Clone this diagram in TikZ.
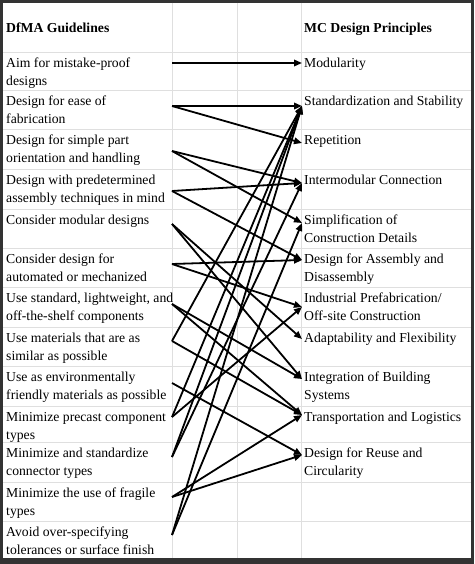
\documentclass[tikz,border=0pt]{standalone}
\usepackage{fontspec}
\setmainfont{Liberation Serif}
\usetikzlibrary{arrows.meta}
\newcommand{\cellfont}{\fontsize{13.7}{18}\selectfont}
\newcommand{\celltext}[1]{\begin{tabular}[t]{@{}l@{}}#1\end{tabular}}

\begin{document}
\begin{tikzpicture}[x=1pt,y=-1pt,
  every node/.style={font=\cellfont,inner sep=0pt,anchor=base west},
  grid/.style={draw=gray!25,line width=1pt},
  link/.style={-{Triangle[length=8pt,width=6.5pt]},line width=1.8pt}]
\useasboundingbox (0,0) rectangle (474,564);
\fill[black!80] (0,0) rectangle (474,564);
\fill[white] (3,3) rectangle (471,558);
% table grid
\draw[grid] (172,3)--(172,558) (237,3)--(237,558) (301,3)--(301,558);
\draw[grid] (3,52.5)--(471,52.5) (3,90.5)--(471,90.5) (3,129.5)--(471,129.5)
  (3,169.5)--(471,169.5) (3,209.5)--(471,209.5) (3,248.5)--(471,248.5)
  (3,287.5)--(471,287.5) (3,327.5)--(471,327.5) (3,366.5)--(471,366.5)
  (3,406.5)--(471,406.5) (3,442.5)--(471,442.5) (3,482.5)--(471,482.5)
  (3,521.5)--(471,521.5);
% headers
\node (hg) at (6,32.5) {\textbf{DfMA Guidelines}};
\node (hp) at (304,32.5) {\textbf{MC Design Principles}};
% DfMA guidelines
\node (g1) at (6,67.5) {\celltext{Aim for mistake-proof\\designs}};
\node (g2) at (6,105.5) {\celltext{Design for ease of\\fabrication}};
\node (g3) at (6,144.5) {\celltext{Design for simple part\\orientation and handling}};
\node (g4) at (6,184.5) {\celltext{Design with predetermined\\assembly techniques in mind}};
\node (g5) at (6,224.5) {\celltext{Consider modular designs}};
\node (g6) at (6,263.5) {\celltext{Consider design for\\automated or mechanized}};
\node (g7) at (6,302.5) {\celltext{Use standard, lightweight, and\\off-the-shelf components}};
\node (g8) at (6,342.5) {\celltext{Use materials that are as\\similar as possible}};
\node (g9) at (6,381.5) {\celltext{Use as environmentally\\friendly materials as possible}};
\node (g10) at (6,421.5) {\celltext{Minimize precast component\\types}};
\node (g11) at (6,457.5) {\celltext{Minimize and standardize\\connector types}};
\node (g12) at (6,497.5) {\celltext{Minimize the use of fragile\\types}};
\node (g13) at (6,536.5) {\celltext{Avoid over-specifying\\tolerances or surface finish}};
% MC design principles
\node (p1) at (304,67.5) {\celltext{Modularity}};
\node (p2) at (304,105.5) {\celltext{Standardization and Stability}};
\node (p3) at (304,144.5) {\celltext{Repetition}};
\node (p4) at (304,184.5) {\celltext{Intermodular Connection}};
\node (p5) at (304,224.5) {\celltext{Simplification of\\Construction Details}};
\node (p6) at (304,263.5) {\celltext{Design for Assembly and\\Disassembly}};
\node (p7) at (304,302.5) {\celltext{Industrial Prefabrication/\\Off-site Construction}};
\node (p8) at (304,342.5) {\celltext{Adaptability and Flexibility}};
\node (p9) at (304,381.5) {\celltext{Integration of Building\\Systems}};
\node (p10) at (304,421.5) {\celltext{Transportation and Logistics}};
\node (p11) at (304,457.5) {\celltext{Design for Reuse and\\Circularity}};
% link ends
\coordinate (g1o) at (172,63);
\coordinate (g2o) at (172,106);
\coordinate (g3o) at (172,151);
\coordinate (g4o) at (172,191);
\coordinate (g5o) at (172,224);
\coordinate (g6o) at (172,264);
\coordinate (g7o) at (172,304);
\coordinate (g8o) at (172,341);
\coordinate (g9o) at (172,383);
\coordinate (g10o) at (172,417);
\coordinate (g11o) at (172,457);
\coordinate (g12o) at (172,497);
\coordinate (g13o) at (172,535);
\coordinate (p1i) at (302,63);
\coordinate (p2i) at (302,106);
\coordinate (p3i) at (302,143);
\coordinate (p4i) at (302,183);
\coordinate (p5i) at (302,223);
\coordinate (p6i) at (302,260);
\coordinate (p7i) at (302,307);
\coordinate (p8i) at (302,339);
\coordinate (p9i) at (302,379);
\coordinate (p10i) at (302,415);
\coordinate (p11i) at (302,455);
% links
\draw[link] (g1o)--(p1i);
\draw[link] (g2o)--(p2i);
\draw[link] (g2o)--(p3i);
\draw[link] (g3o)--(p4i);
\draw[link] (g3o)--(p5i);
\draw[link] (g4o)--(p4i);
\draw[link] (g4o)--(p6i);
\draw[link] (g5o)--(p8i);
\draw[link] (g5o)--(p9i);
\draw[link] (g6o)--(p6i);
\draw[link] (g6o)--(p7i);
\draw[link] (g7o)--(p9i);
\draw[link] (g7o)--(p10i);
\draw[link] (g8o)--(p2i);
\draw[link] (g8o)--(p10i);
\draw[link] (g9o)--(p11i);
\draw[link] (g10o)--(p2i);
\draw[link] (g10o)--(p7i);
\draw[link] (g11o)--(p2i);
\draw[link] (g11o)--(p4i);
\draw[link] (g12o)--(p10i);
\draw[link] (g12o)--(p11i);
\draw[link] (g13o)--(p2i);
\draw[link] (g13o)--(p5i);
\end{tikzpicture}
\end{document}
